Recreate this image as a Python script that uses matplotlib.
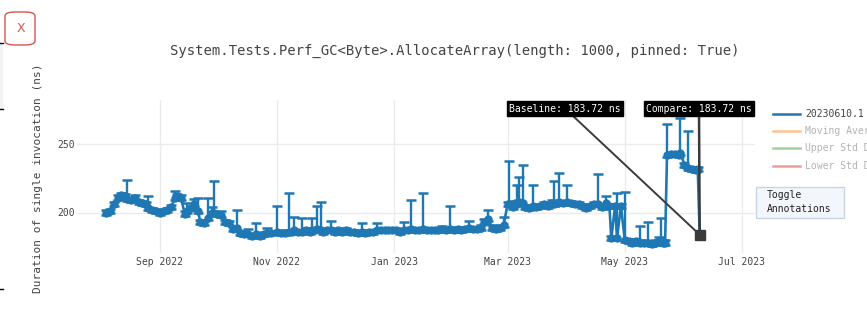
import matplotlib
matplotlib.use('Agg')
import matplotlib.pyplot as plt
import matplotlib.dates as mdates
from matplotlib.patches import FancyBboxPatch, Rectangle
from matplotlib.lines import Line2D
import pandas as pd

# ---------------- data ----------------
title = "System.Tests.Perf_GC<Byte>.AllocateArray(length: 1000, pinned: True)"
y_label = "Duration of single invocation (ns)"
series_name = "20230610.1"
legend_labels = ["20230610.1", "Moving Average", "Upper Std Dev", "Lower Std Dev"]
ytick_values = [200, 250]

dates = [
    "2022-08-04", "2022-08-06", "2022-08-08", "2022-08-10", "2022-08-12", "2022-08-14", "2022-08-15",
    "2022-08-17", "2022-08-19", "2022-08-21", "2022-08-23", "2022-08-25", "2022-08-26", "2022-08-28",
    "2022-08-30", "2022-09-01", "2022-09-03", "2022-09-05", "2022-09-07", "2022-09-09", "2022-09-10",
    "2022-09-12", "2022-09-14", "2022-09-15", "2022-09-17", "2022-09-19", "2022-09-21", "2022-09-22",
    "2022-09-24", "2022-09-26", "2022-09-28", "2022-09-29", "2022-10-01", "2022-10-03", "2022-10-05",
    "2022-10-07", "2022-10-09", "2022-10-11", "2022-10-13", "2022-10-15", "2022-10-17", "2022-10-19",
    "2022-10-21", "2022-10-23", "2022-10-25", "2022-10-27", "2022-10-29", "2022-11-01", "2022-11-03",
    "2022-11-05", "2022-11-07", "2022-11-09", "2022-11-10", "2022-11-12", "2022-11-14", "2022-11-16",
    "2022-11-18", "2022-11-19", "2022-11-21", "2022-11-22", "2022-11-24", "2022-11-25", "2022-11-27",
    "2022-11-29", "2022-12-01", "2022-12-03", "2022-12-05", "2022-12-07", "2022-12-09", "2022-12-11",
    "2022-12-13", "2022-12-15", "2022-12-17", "2022-12-19", "2022-12-21", "2022-12-23", "2022-12-25",
    "2022-12-27", "2022-12-29", "2022-12-31", "2023-01-02", "2023-01-04", "2023-01-06", "2023-01-08",
    "2023-01-10", "2023-01-12", "2023-01-14", "2023-01-16", "2023-01-18", "2023-01-20", "2023-01-22",
    "2023-01-24", "2023-01-26", "2023-01-28", "2023-01-30", "2023-02-01", "2023-02-03", "2023-02-05",
    "2023-02-07", "2023-02-09", "2023-02-11", "2023-02-13", "2023-02-15", "2023-02-17", "2023-02-19",
    "2023-02-21", "2023-02-23", "2023-02-25", "2023-02-27", "2023-03-01", "2023-03-02", "2023-03-04",
    "2023-03-05", "2023-03-06", "2023-03-07", "2023-03-09", "2023-03-10", "2023-03-12", "2023-03-14",
    "2023-03-16", "2023-03-18", "2023-03-20", "2023-03-22", "2023-03-24", "2023-03-25", "2023-03-27",
    "2023-03-28", "2023-03-30", "2023-04-01", "2023-04-03", "2023-04-05", "2023-04-07", "2023-04-09",
    "2023-04-11", "2023-04-13", "2023-04-15", "2023-04-17", "2023-04-19", "2023-04-21", "2023-04-22",
    "2023-04-23", "2023-04-24", "2023-04-26", "2023-04-27", "2023-04-29", "2023-05-01", "2023-05-03",
    "2023-05-05", "2023-05-07", "2023-05-09", "2023-05-11", "2023-05-13", "2023-05-15", "2023-05-17",
    "2023-05-19", "2023-05-20", "2023-05-21", "2023-05-22", "2023-05-23", "2023-05-25", "2023-05-27",
    "2023-05-29", "2023-05-30", "2023-06-01", "2023-06-03", "2023-06-05", "2023-06-07", "2023-06-08",
    "2023-06-09",
]

values = [
    200, 201, 206, 211, 213, 212, 210,
    209, 211, 208, 207, 206, 203, 202,
    201, 200, 201, 202, 204, 211, 212,
    211, 199, 201, 203, 206, 201, 193,
    192, 196, 200, 200, 199, 198, 193,
    192, 188, 189, 185, 184, 184, 183,
    184, 183, 184, 185, 185, 186, 185,
    185, 186, 186, 187, 186, 186, 187,
    186, 187, 187, 188, 187, 186, 187,
    187, 186, 187, 186, 187, 186, 186,
    185, 186, 185, 186, 186, 187, 187,
    187, 187, 187, 187, 186, 187, 187,
    188, 187, 187, 188, 187, 187, 187,
    187, 188, 187, 188, 187, 188, 187,
    188, 189, 188, 188, 189, 193, 195,
    189, 188, 189, 191, 206, 206, 204,
    207, 206, 208, 207, 204, 203, 205,
    204, 205, 206, 205, 207, 206, 207,
    208, 207, 208, 207, 206, 206, 205,
    203, 205, 206, 206, 204, 207, 205,
    205, 181, 205, 181, 205, 180, 179,
    178, 179, 178, 178, 178, 177, 178,
    179, 179, 178, 178, 242, 243, 243,
    242, 244, 235, 233, 232, 231, 232,
    183.72,
]

err_up = [
    1.5, 1.5, 1.5, 1.5, 1.5, 1.5, 14,
    1.5, 1.5, 1.5, 1.5, 2, 9, 1.5,
    1.5, 1.5, 1.5, 1.5, 1.5, 5, 1.5,
    1.5, 2, 6, 2, 4, 10, 1.5,
    1.5, 15, 4, 23, 1.5, 3, 1.5,
    1.5, 1.5, 13, 1.5, 1.5, 4, 1.5,
    8, 1.5, 1.5, 4, 1.5, 19, 1.5,
    2, 28, 1.5, 10, 1.5, 10, 1.5,
    1.5, 9, 1.5, 17, 21, 1.5, 1.5,
    7, 1.5, 1.5, 1.5, 1.5, 1.5, 1.5,
    1.5, 6, 1.5, 1.5, 1.5, 5, 1.5,
    1.5, 1.5, 1.5, 1.5, 1.5, 6, 1.5,
    21, 1.5, 1.5, 26, 1.5, 1.5, 1.5,
    1.5, 2, 1.5, 17, 1.5, 1.5, 1.5,
    1.5, 5, 1.5, 1.5, 1.5, 2, 7,
    1.5, 1.5, 1.5, 6, 1.5, 32, 1.5,
    1.5, 14, 18, 28, 1.5, 1.5, 15,
    1.5, 1.5, 2, 1.5, 2, 17, 1.5,
    21, 1.5, 12, 1.5, 1.5, 1.5, 1.5,
    1.5, 1.5, 1.5, 22, 1.5, 5, 1.5,
    1.5, 1.5, 1.5, 33, 1.5, 35, 1.5,
    1.5, 1.5, 12, 1.5, 15, 1.5, 1.5,
    3, 17, 1.5, 1.5, 23, 1.5, 1.5,
    2, 25, 1.5, 27, 1.5, 1.5, 1.5,
    1.5,
]

err_down = [2] + [1.5] * (len(values) - 1)

compare_date = "2023-06-09"
baseline_value = 183.72
compare_value = 183.72

# ---------------- figure ----------------
W, H = 867, 328
fig = plt.figure(figsize=(W / 100, H / 100), dpi=100)
mono = 'DejaVu Sans Mono'
txt = '#444444'
blue = '#1f77b4'

ax = fig.add_axes([77 / W, (H - 253) / H, 678 / W, 153 / H])
x = pd.to_datetime(dates).to_pydatetime()
ax.errorbar(x, values, yerr=[err_down, err_up], fmt='-o', color=blue, lw=1.9,
            ms=5, elinewidth=1.7, capsize=3.3, capthick=1.8, zorder=3)

ax.set_xlim(pd.Timestamp('2022-07-19 22:00').to_pydatetime(),
            pd.Timestamp('2023-07-07 19:00').to_pydatetime())
ax.set_ylim(170.3, 282.5)
ax.set_yticks(ytick_values)
ax.xaxis.set_major_locator(mdates.MonthLocator(bymonth=[1, 3, 5, 7, 9, 11]))
ax.xaxis.set_major_formatter(mdates.DateFormatter('%b %Y'))
ax.grid(True, color='#ebebeb', lw=1)
ax.set_axisbelow(True)
for s in ax.spines.values():
    s.set_visible(False)
ax.tick_params(axis='both', length=0, labelsize=7, labelcolor=txt)
ax.tick_params(axis='y', pad=1.5)
ax.tick_params(axis='x', pad=3)
for lab in ax.get_xticklabels() + ax.get_yticklabels():
    lab.set_family(mono)

# annotations
pt_x = pd.Timestamp(compare_date).to_pydatetime()
ann_kw = dict(xycoords='data', textcoords='figure pixels', ha='center', va='center',
              color='white', fontsize=7, family=mono, annotation_clip=False,
              bbox=dict(boxstyle='square,pad=0.25', fc='black', ec='black'), zorder=6)
ax.annotate(f'Baseline: {baseline_value:.2f} ns', xy=(pt_x, baseline_value),
            xytext=(565, H - 108.5),
            arrowprops=dict(arrowstyle='-', color='#3a3a3a', lw=1.4, shrinkA=0, shrinkB=0),
            **ann_kw)
ax.annotate(f'Compare: {compare_value:.2f} ns', xy=(pt_x, compare_value),
            xytext=(699, H - 108.5),
            arrowprops=dict(arrowstyle='-', color='#3a3a3a', lw=1.8, shrinkA=0, shrinkB=0),
            **ann_kw)
ax.plot([pt_x], [compare_value], 's', ms=7, color='#3a3a3a', zorder=7, clip_on=False)

# title and y label
fig.text(455 / W, 1 - 51 / H, title, ha='center', va='center', fontsize=10,
         family=mono, color=txt)
fig.text(38 / W, 1 - 178 / H, y_label, ha='center', va='center', rotation=90,
         fontsize=8, family=mono, color=txt)

# legend (manual, right side; long labels run off the edge as in the reference)
leg_y = [114, 131, 148, 166]
leg_colors = ['#1f77b4', '#fdc28d', '#9dd39d', '#ee9c9c']
leg_text_colors = [txt, '#b3b3b3', '#b3b3b3', '#b3b3b3']
for yy, lab, c, tc in zip(leg_y, legend_labels, leg_colors, leg_text_colors):
    fig.add_artist(Line2D([773 / W, 800 / W], [1 - yy / H, 1 - yy / H],
                          color=c, lw=1.8, transform=fig.transFigure))
    fig.text(805 / W, 1 - yy / H, lab, ha='left', va='center', fontsize=7,
             family=mono, color=tc)

# Toggle annotations button
fig.add_artist(Rectangle((756 / W, 1 - 218 / H), 88 / W, 31 / H,
                         transform=fig.transFigure, fc='#f3f7fc', ec='#c7d4e3', lw=1))
fig.text(767 / W, 1 - 195.5 / H, 'Toggle', ha='left', va='center', fontsize=7,
         family=mono, color='#222222')
fig.text(767 / W, 1 - 209.5 / H, 'Annotations', ha='left', va='center', fontsize=7,
         family=mono, color='#222222')

# X close button
fig.add_artist(FancyBboxPatch((5 / W, 1 - 45 / H), 30 / W, 33 / H,
                              boxstyle='round,pad=0,rounding_size=0.012',
                              transform=fig.transFigure, fc='white', ec='#d9534f', lw=1))
fig.text(20.5 / W, 1 - 28.7 / H, 'X', ha='center', va='center', fontsize=9,
         family='DejaVu Sans', color='#d9534f')

# left page edge fragments
fig.add_artist(Rectangle((0, 1 - 109 / H), 3 / W, 66 / H, transform=fig.transFigure,
                         fc='#f3f3f3', ec='none'))
for yy in [43, 109, 289]:
    fig.add_artist(Line2D([0, 3 / W], [1 - yy / H, 1 - yy / H], color='black', lw=1,
                          transform=fig.transFigure))

fig.savefig('out.png', dpi=100)
